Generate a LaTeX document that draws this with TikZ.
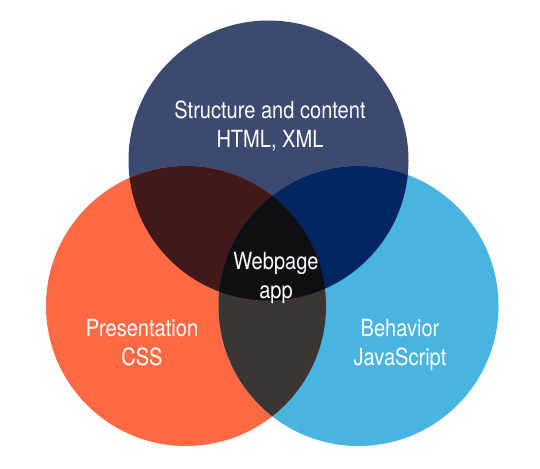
\documentclass[tikz,border=0pt]{standalone}
\usepackage{fontspec}
\setmainfont{TeX Gyre Heros}[FakeStretch=0.85]
\definecolor{topc}{HTML}{3C4A71}
\definecolor{leftc}{HTML}{FF6A45}
\definecolor{rightc}{HTML}{48B4E0}
\definecolor{tlc}{HTML}{42191A}
\definecolor{trc}{HTML}{022662}
\definecolor{lrc}{HTML}{3B3633}
\definecolor{midc}{HTML}{0E0F13}
\tikzset{
  lbl/.style={text=white, align=center, inner sep=0pt, font=\fontsize{23.6}{29}\selectfont},
}
\begin{document}
\begin{tikzpicture}[x=1pt,y=-1pt]
\useasboundingbox (0,0) rectangle (540,468);
\coordinate (T) at (268.5,160.5);
\coordinate (L) at (186,306);
\coordinate (R) at (358.5,306);
\def\rad{140pt}
\fill[topc] (T) circle (\rad);
\fill[leftc] (L) circle (\rad);
\fill[rightc] (R) circle (\rad);
\begin{scope}
  \clip (T) circle (\rad);
  \fill[tlc] (L) circle (\rad);
  \fill[trc] (R) circle (\rad);
\end{scope}
\begin{scope}
  \clip (L) circle (\rad);
  \fill[lrc] (R) circle (\rad);
\end{scope}
\begin{scope}
  \clip (T) circle (\rad);
  \clip (L) circle (\rad);
  \fill[midc] (R) circle (\rad);
\end{scope}
\node[lbl, anchor=base] (st) at (270,147) {Structure and content\\HTML, XML};
\node[lbl, anchor=base] (wp) at (276,298) {Webpage\\app};
\node[lbl, anchor=base] (pr) at (142,365.5) {Presentation\\CSS};
\node[lbl, anchor=base] (bh) at (400,365.5) {Behavior\\JavaScript};
\end{tikzpicture}
\end{document}
